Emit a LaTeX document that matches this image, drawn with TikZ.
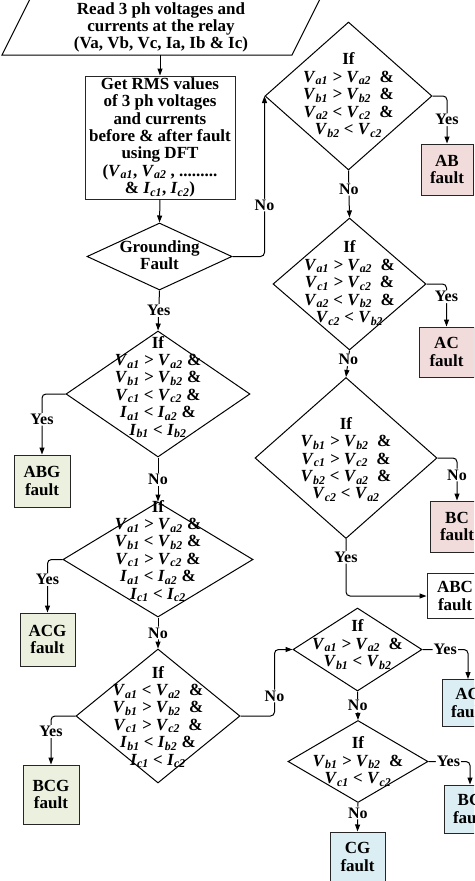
\documentclass[tikz,border=0pt]{standalone}
\usepackage{fontspec}
\setmainfont{Liberation Serif}
\usetikzlibrary{shapes.geometric,arrows.meta,calc}
\definecolor{pinkf}{HTML}{F2DCDB}
\definecolor{greenf}{HTML}{EBF1DE}
\definecolor{bluef}{HTML}{DAEEF3}
\newcommand{\vx}[2]{\textit{#1}\textsubscript{\textit{#2}}}
\newcommand{\gt}{\textit{>}}
\newcommand{\lt}{\textit{<}}
\begin{document}
\begin{tikzpicture}[x=1pt,y=-1pt,
  font=\fontsize{17}{17.4}\selectfont\bfseries,
  box/.style={draw=black!85, line width=1pt, inner sep=0pt, align=center},
  dia/.style={diamond, draw=black, line width=1pt, inner sep=0pt},
  ctext/.style={align=center, inner sep=0pt},
  lbl/.style={fill=white, inner sep=1pt, font=\fontsize{16}{16}\selectfont\bfseries},
  arr/.style={draw=black, line width=1pt, rounded corners=4pt, -{Triangle[length=7pt,width=5pt]}}]
\useasboundingbox (0,0) rectangle (474,881);
\clip (0,0) rectangle (474,881);
\fill[white] (0,0) rectangle (474,881);

% input parallelogram
\draw[line width=1pt] (2,55) -- (292,55) -- (322,-5) -- (32,-5) -- cycle;
\node[ctext] (read) at (161,27.5) {Read 3 ph voltages and\\currents at the relay\\(Va, Vb, Vc, Ia, Ib \& Ic)};
\coordinate (readb) at (160,55);

% RMS box
\node[box, minimum width=150pt, minimum height=123pt] (rms) at (160,137.5) {Get RMS values\\of 3 ph voltages\\and currents\\before \& after fault\\using DFT\\(\vx{V}{a1}, \vx{V}{a2} , .........\\\& \vx{I}{c1}, \vx{I}{c2})};

% grounding decision
\node[dia, minimum width=145pt, minimum height=67pt] (g) at (159.5,256.5) {};
\node[ctext] (gt) at (159.5,255) {Grounding\\Fault};

% left column
\node[dia, minimum width=184pt, minimum height=126pt] (d1) at (158,394) {};
\node[ctext] (d1t) at (158,387) {If\\\vx{V}{a1} \gt{} \vx{V}{a2} \&\\\vx{V}{b1} \gt{} \vx{V}{b2} \&\\\vx{V}{c1} \lt{} \vx{V}{c2} \&\\\vx{I}{a1} \lt{} \vx{I}{a2} \&\\\vx{I}{b1} \lt{} \vx{I}{b2}};

\node[dia, minimum width=190pt, minimum height=115pt] (d2) at (158,559.5) {};
\node[ctext] (d2t) at (158,551) {If\\\vx{V}{a1} \gt{} \vx{V}{a2} \&\\\vx{V}{b1} \lt{} \vx{V}{b2} \&\\\vx{V}{c1} \gt{} \vx{V}{c2} \&\\\vx{I}{a1} \lt{} \vx{I}{a2} \&\\\vx{I}{c1} \lt{} \vx{I}{c2}};

\node[dia, minimum width=164pt, minimum height=134pt] (d3) at (158,716) {};
\node[ctext] (d3t) at (158,717) {If\\\vx{V}{a1} \lt{} \vx{V}{a2} ~\&\\\vx{V}{b1} \gt{} \vx{V}{b2} ~\&\\\vx{V}{c1} \gt{} \vx{V}{c2} ~\&\\\vx{I}{b1} \lt{} \vx{I}{b2} \&\\\vx{I}{c1} \lt{} \vx{I}{c2}};

\node[box, fill=greenf, minimum width=56pt, minimum height=52pt] (abg) at (42,481) {ABG\\fault};
\node[box, fill=greenf, minimum width=55pt, minimum height=53pt] (acg) at (47.5,639.5) {ACG\\fault};
\node[box, fill=greenf, minimum width=56pt, minimum height=59pt] (bcg) at (51,794.5) {BCG\\fault};

% right column
\node[dia, minimum width=167pt, minimum height=148pt] (ab) at (348.5,96) {};
\node[ctext] (abt) at (348.5,95) {If\\\vx{V}{a1} \gt{} \vx{V}{a2} ~\&\\\vx{V}{b1} \gt{} \vx{V}{b2} ~\&\\\vx{V}{a2} \lt{} \vx{V}{c2} ~\&\\\vx{V}{b2} \lt{} \vx{V}{c2}};

\node[dia, minimum width=153pt, minimum height=132pt] (ac) at (349.5,284) {};
\node[ctext] (act) at (349.5,283) {If\\\vx{V}{a1} \gt{} \vx{V}{a2} ~\&\\\vx{V}{c1} \gt{} \vx{V}{c2} ~\&\\\vx{V}{a2} \lt{} \vx{V}{b2} ~\&\\\vx{V}{c2} \lt{} \vx{V}{b2}};

\node[dia, minimum width=182pt, minimum height=161pt] (bc) at (346,458) {};
\node[ctext] (bct) at (346,459.5) {If\\\vx{V}{b1} \gt{} \vx{V}{b2} ~\&\\\vx{V}{c1} \gt{} \vx{V}{c2} ~\&\\\vx{V}{b2} \lt{} \vx{V}{a2} ~\&\\\vx{V}{c2} \lt{} \vx{V}{a2}};

\node[dia, minimum width=129pt, minimum height=83pt] (d7) at (357.5,649.5) {};
\node[ctext] (d7t) at (357.5,644.5) {If\\\vx{V}{a1} \gt{} \vx{V}{a2} ~\&\\\vx{V}{b1} \lt{} \vx{V}{b2}};

\node[dia, minimum width=140pt, minimum height=82pt] (d8) at (358,761.5) {};
\node[ctext] (d8t) at (358,761.5) {If\\\vx{V}{b1} \gt{} \vx{V}{b2} ~\&\\\vx{V}{c1} \lt{} \vx{V}{c2}};

\node[box, fill=pinkf, minimum width=52pt, minimum height=51pt] (abbox) at (447,169.5) {AB\\fault};
\node[box, fill=pinkf, minimum width=55pt, minimum height=50pt] (acbox) at (446.5,352) {AC\\fault};
\node[box, fill=pinkf, minimum width=54pt, minimum height=51pt] (bcbox) at (457,526.5) {BC\\fault};
\node[box, fill=white, minimum width=56pt, minimum height=45pt] (abcbox) at (455,596) {ABC\\fault};
\node[box, fill=bluef, minimum width=52pt, minimum height=47pt] (ag) at (468,703) {AG\\fault};
\node[box, fill=bluef, minimum width=52pt, minimum height=48pt] (bg) at (470,809) {BG\\fault};
\node[box, fill=bluef, minimum width=55pt, minimum height=50pt] (cg) at (357.5,857) {CG\\fault};

% connectors
\draw[arr] (readb) -- (rms.north);
\draw[arr] (rms.south) -- (g.north);
\draw[arr] (g.south) -- node[lbl]{Yes} (d1.north);
\draw[arr] (g.east) -| node[lbl,pos=0.66]{No} (ab.west);
\draw[arr] (d1.west) -| node[lbl,pos=0.71]{Yes} (abg.north);
\draw[arr] (d1.south) -- node[lbl]{No} (d2.north);
\draw[arr] (d2.west) -| node[lbl,pos=0.69]{Yes} (acg.north);
\draw[arr] (d2.south) -- node[lbl]{No} (d3.north);
\draw[arr] (d3.west) -| node[lbl,pos=0.66]{Yes} (bcg.north);
\draw[arr] (d3.east) -- ++(34,0) |- node[lbl,pos=0.15]{No} (d7.west);
\draw[arr] (ab.east) -| node[lbl,pos=0.75]{Yes} (abbox.north);
\draw[arr] (ab.south) -- node[lbl,pos=0.4]{No} (ac.north);
\draw[arr] (ac.east) -| node[lbl,pos=0.65]{Yes} (acbox.north);
\draw[arr] (ac.south) -- node[lbl,pos=0.35]{No} (bc.north);
\draw[arr] (bc.east) -| node[lbl,pos=0.7]{No} (bcbox.north);
\draw[arr] (bc.south) |- node[lbl,pos=0.16]{Yes} (abcbox.west);
\draw[arr] (d7.east) -| node[lbl,pos=0.25]{Yes} (ag.north);
\draw[arr] (d7.south) -- node[lbl]{No} (d8.north);
\draw[arr] (d8.east) -| node[lbl,pos=0.24]{Yes} (bg.north);
\draw[arr] (d8.south) -- node[lbl,pos=0.35]{No} (cg.north);
\end{tikzpicture}
\end{document}
